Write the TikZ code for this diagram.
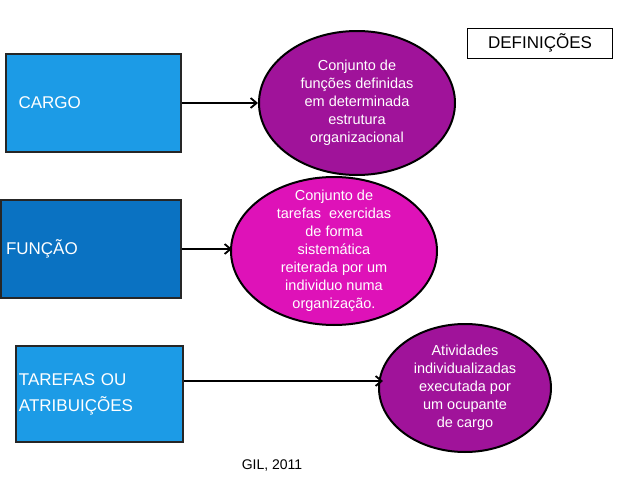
\documentclass[tikz,border=0pt]{standalone}
\usepackage{fontspec}
\setmainfont{Liberation Sans}
\usetikzlibrary{shapes.geometric,arrows.meta}
\definecolor{lblue}{HTML}{1C9BE6}
\definecolor{dblue}{HTML}{0A72C2}
\definecolor{purp}{HTML}{A0139A}
\definecolor{mag}{HTML}{DE12B8}
\tikzset{
 box/.style={draw=black!85,line width=2pt,minimum height=98pt,text=white,font=\fontsize{17}{26}\selectfont,align=left,anchor=north west,inner xsep=0pt},
 ell/.style={ellipse,draw=black,line width=2pt,text=white,align=center,font=\fontsize{14.5}{18}\selectfont,inner sep=-20pt},
 arr/.style={-{Straight Barb[length=6pt,width=10pt]},line width=1.8pt}
}
\begin{document}
\begin{tikzpicture}[x=1pt,y=-1pt]
\useasboundingbox[fill=white] (0,0) rectangle (638,479);
\node[box,fill=lblue,minimum width=175pt,text width=150pt] (cargo) at (5,53) {CARGO};
\node[box,fill=dblue,minimum width=180pt,text width=170pt] (funcao) at (0,199) {FUNÇÃO};
\node[box,fill=lblue,minimum width=167pt,text width=161pt,minimum height=96pt] (tarefas) at (15,345) {TAREFAS OU\\ATRIBUIÇÕES};
\node[ell,fill=purp,minimum width=196pt,minimum height=144pt] (e1) at (357,103) {Conjunto de\\funções definidas\\em determinada\\estrutura\\organizacional};
\node[ell,fill=mag,minimum width=206pt,minimum height=148pt] (e2) at (334,251) {Conjunto de\\tarefas~ exercidas\\de forma\\sistemática\\reiterada por um\\individuo numa\\organização.};
\node[ell,fill=purp,minimum width=172pt,minimum height=128pt] (e3) at (465,388) {Atividades\\individualizadas\\executada por\\um ocupante\\de cargo};
\node[draw=black,line width=1pt,minimum width=145pt,minimum height=30pt,font=\fontsize{17}{19}\selectfont,inner sep=2pt] (def) at (540,43) {DEFINIÇÕES};
\node[font=\fontsize{14}{16}\selectfont] (gil) at (272,466) {GIL, 2011};
\draw[arr] (cargo.east |- 0,103) -- (e1.west |- 0,103);
\draw[arr] (funcao.east |- 0,249) -- (232,249);
\draw[arr] (tarefas.east |- 0,381) -- (383,381);
\end{tikzpicture}
\end{document}
